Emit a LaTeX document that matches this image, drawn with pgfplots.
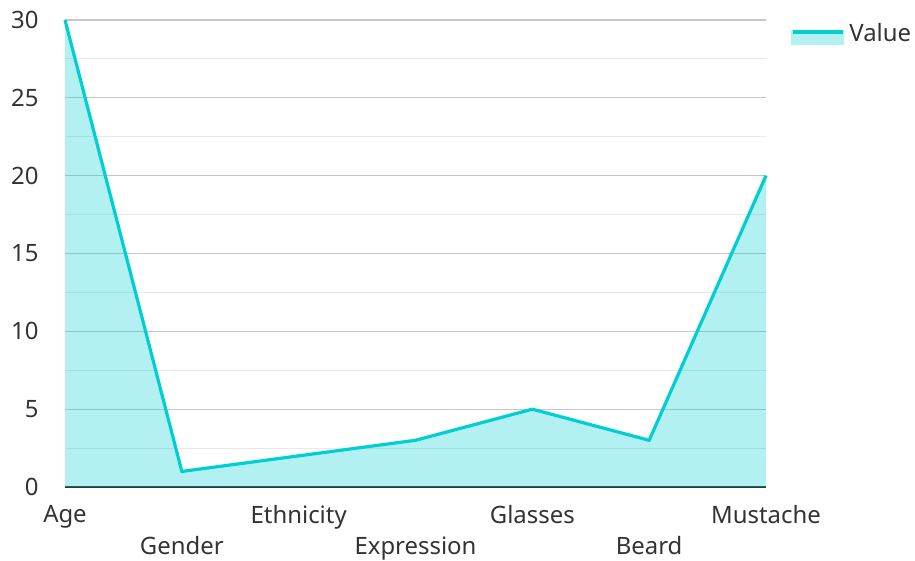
\documentclass[border=0pt]{standalone}
\usepackage{pgfplots}
\pgfplotsset{compat=1.18}
\usepackage{fontspec}
\setmainfont{Noto Sans}
\definecolor{teal0}{HTML}{00CED1}
\definecolor{txt}{HTML}{333333}
\begin{document}
\begin{tikzpicture}
\path[use as bounding box] (-65bp,-74bp) rectangle (850bp,487bp);
\begin{axis}[
at={(0,0)}, anchor=south west,
scale only axis, width=701bp, height=467bp,
xmin=0, xmax=6, ymin=0, ymax=30,
xtick={0,...,6},
xticklabels={Age,{\strut\\Gender},Ethnicity,{\strut\\Expression},Glasses,{\strut\\Beard},Mustache},
xticklabel style={align=center, font=\fontsize{24}{29}\selectfont, text=txt, yshift=-15bp},
ytick={0,5,...,30},
minor ytick={2.5,7.5,...,27.5},
yticklabel style={font=\fontsize{24}{28}\selectfont, text=txt, xshift=-23bp},
/pgf/number format/assume math mode=true,
ymajorgrids, yminorgrids,
major grid style={color=black!22, line width=1.1pt},
minor grid style={color=black!9, line width=1.1pt},
axis x line*=bottom, axis y line*=left,
x axis line style={color=txt, line width=1.5pt, -},
y axis line style={draw=none},
major tick length=0pt, minor tick length=0pt,
tick style={draw=none},
clip=false,
legend style={at={(1.0357,0.998)}, anchor=north west, draw=none, fill=none,
  font=\fontsize{24}{28}\selectfont, text=txt, inner sep=0pt, column sep=3bp},
legend image code/.code={
  \fill[teal0!30] (0bp,-10bp) rectangle (50bp,1bp);
  \draw[teal0, line width=3.2pt] (0bp,1bp) -- (50bp,1bp);
},
]
\addplot[draw=none, fill=teal0, fill opacity=0.3, forget plot] coordinates {
(0,30) (1,1) (2,2) (3,3) (4,5) (5,3) (6,20)
} \closedcycle;
\addplot[teal0, line width=3.2pt] coordinates {
(0,30) (1,1) (2,2) (3,3) (4,5) (5,3) (6,20)
};
\addlegendentry{Value}
\end{axis}
\end{tikzpicture}
\end{document}
